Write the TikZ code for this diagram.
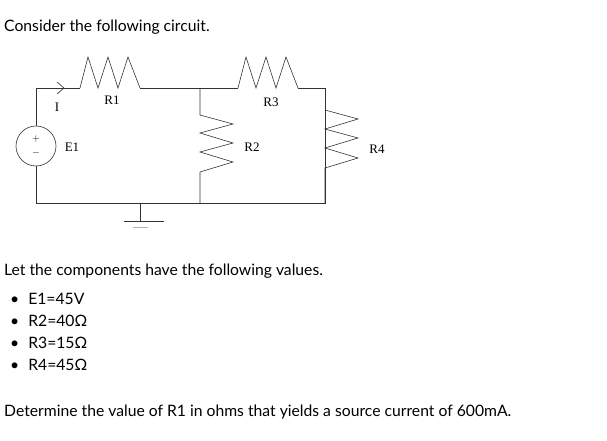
\documentclass[tikz,border=0pt]{standalone}
\usepackage{fontspec}
\setmainfont{Lato}
\newfontfamily\lbl{Liberation Serif}
\begin{document}
\begin{tikzpicture}[x=1pt,y=-1pt,
    wire/.style={line width=0.6pt, black!80},
    lab/.style={font=\lbl\fontsize{13}{14}\selectfont, inner sep=0pt},
    txt/.style={font=\fontsize{15.7}{18}\selectfont, anchor=west, inner sep=0pt}]
    \useasboundingbox (0,0) rectangle (607,441);
    % corners
    \coordinate (tl) at (36,88);
    \coordinate (bl) at (36,203);
    \coordinate (tm) at (200,88);
    \coordinate (bm) at (200,203);
    \coordinate (tr) at (325,88);
    \coordinate (br) at (325,203);
    \coordinate (gnd) at (140,203);
    \coordinate (gl) at (140,221);
    % source
    \node[draw, circle, wire, minimum size=40pt, inner sep=0pt] (E1) at (36,146) {};
    \node[font=\fontsize{10}{10}\selectfont] at (36,139) {$+$};
    \node[font=\fontsize{10}{10}\selectfont] at (36,153) {$-$};
    \draw[wire] (E1) -- (tl) -- (80,88);
    \draw[wire] (E1) -- (bl) -- (br) -- (tr) -- (298,88);
    \draw[wire] (140,88) -- (238,88);
    % R1, R3
    \draw[wire] (80,88) -- (88,57) -- (98,88) -- (108,57) -- (118,88) -- (128,57) -- (140,88);
    \draw[wire] (238,88) -- (246,57) -- (256,88) -- (266,57) -- (276,88) -- (286,57) -- (298,88);
    % R2, R4
    \draw[wire] (tm) -- (200,115) -- (233,124) -- (200,133) -- (233,143) -- (200,152) -- (233,162) -- (200,172) -- (bm);
    \draw[wire] (325,110) -- (358,119) -- (325,129) -- (358,138) -- (325,148) -- (358,158) -- (325,168) -- (325,203);
    \draw[wire] (325,88) -- (325,110);
    % arrow and ground
    \draw[wire] (57,82) -- (64,88) -- (57,94);
    \draw[wire] (gnd) -- (gl);
    \draw[wire] (124,221) -- (164,221);
    \draw[black!30] (133,227) -- (148,227);
    % labels
    \node[lab] at (57,107) {I};
    \node[lab] at (112,100) {R1};
    \node[lab] at (271,102) {R3};
    \node[lab] at (72,147) {E1};
    \node[lab] at (252,147) {R2};
    \node[lab] at (377,149) {R4};
    % text
    \node[txt] at (4,27) {Consider the following circuit.};
    \node[txt] at (4,271) {Let the components have the following values.};
    \foreach \v [count=\i] in {E1=45V, R2=40Ω, R3=15Ω, R4=45Ω}
      \node[txt] at (10,277+\i*22) {•\hspace{9pt}\v};
    \node[txt] at (4,412) {Determine the value of R1 in ohms that yields a source current of 600mA.};
\end{tikzpicture}
\end{document}
